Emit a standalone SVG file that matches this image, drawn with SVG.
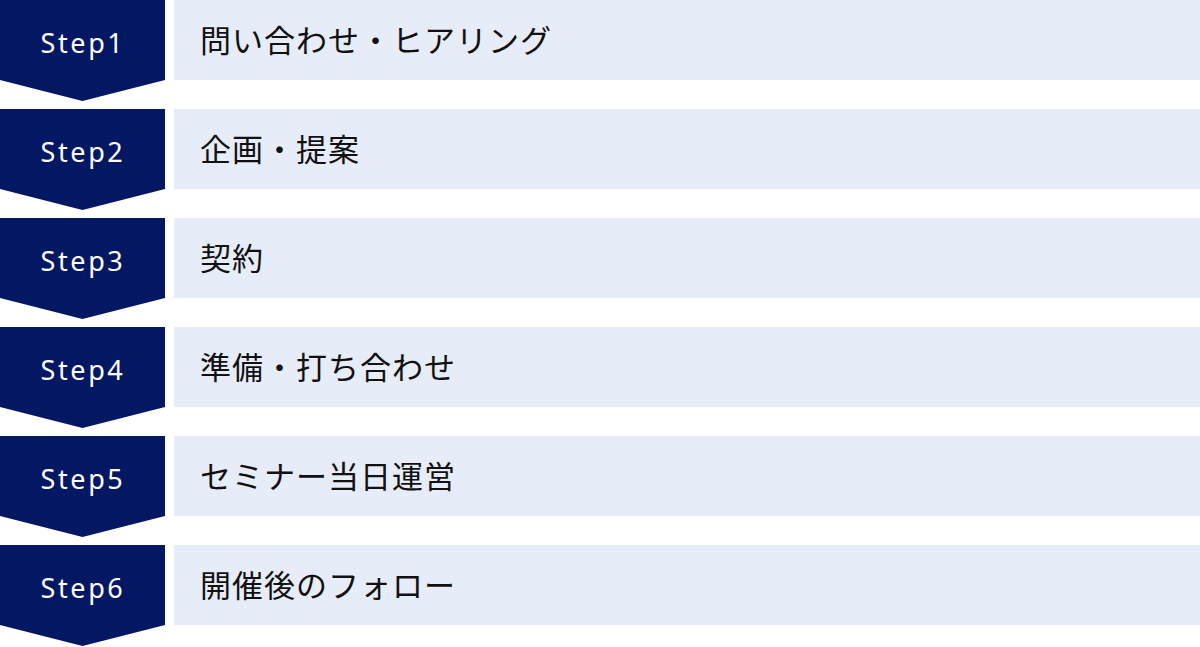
<svg xmlns="http://www.w3.org/2000/svg" width="1200" height="647" viewBox="0 0 1200 647">
<defs>
<style>
.badge{fill:#031762;}
.bar{fill:#e6ecf8;}
.st{font-family:"Noto Sans","DejaVu Sans",sans-serif;font-size:27px;fill:#ffffff;text-anchor:middle;letter-spacing:2.6px;}
.lb{font-family:"Noto Sans CJK JP","Noto Sans",sans-serif;font-size:31px;fill:#111111;letter-spacing:1px;}
</style>
<path id="chev" d="M0 0 H165 V80 L82.5 101 L0 80 Z"/>
</defs>
<g id="step1" transform="translate(0,0)">
<use href="#chev" class="badge"/>
<rect x="174" y="0" width="1026" height="80" class="bar"/>
<text x="83" y="53" class="st">Step1</text>
<text x="200" y="52" class="lb">問い合わせ・ヒアリング</text>
</g>
<g id="step2" transform="translate(0,109)">
<use href="#chev" class="badge"/>
<rect x="174" y="0" width="1026" height="80" class="bar"/>
<text x="83" y="53" class="st">Step2</text>
<text x="200" y="52" class="lb">企画・提案</text>
</g>
<g id="step3" transform="translate(0,218)">
<use href="#chev" class="badge"/>
<rect x="174" y="0" width="1026" height="80" class="bar"/>
<text x="83" y="53" class="st">Step3</text>
<text x="200" y="52" class="lb">契約</text>
</g>
<g id="step4" transform="translate(0,327)">
<use href="#chev" class="badge"/>
<rect x="174" y="0" width="1026" height="80" class="bar"/>
<text x="83" y="53" class="st">Step4</text>
<text x="200" y="52" class="lb">準備・打ち合わせ</text>
</g>
<g id="step5" transform="translate(0,436)">
<use href="#chev" class="badge"/>
<rect x="174" y="0" width="1026" height="80" class="bar"/>
<text x="83" y="53" class="st">Step5</text>
<text x="200" y="52" class="lb">セミナー当日運営</text>
</g>
<g id="step6" transform="translate(0,545)">
<use href="#chev" class="badge"/>
<rect x="174" y="0" width="1026" height="80" class="bar"/>
<text x="83" y="53" class="st">Step6</text>
<text x="200" y="52" class="lb">開催後のフォロー</text>
</g>
<g id="connectors"></g>
</svg>
